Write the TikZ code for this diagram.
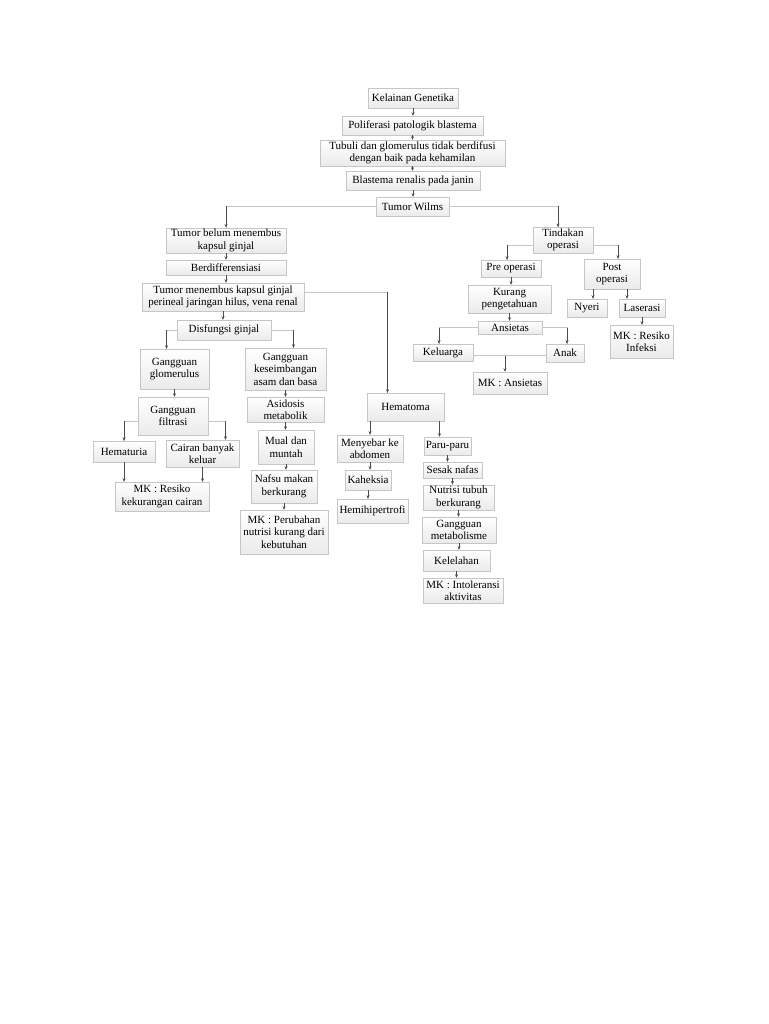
\documentclass[tikz,border=0pt]{standalone}
\usepackage{fontspec}
\setmainfont{Liberation Serif}
\usetikzlibrary{arrows.meta,calc,shadows}

\begin{document}
\begin{tikzpicture}[
  x=1pt, y=-1pt,
  every node/.style={font=\fontsize{11}{12.5}\selectfont},
  box/.style={draw=gray!45, top color=white, bottom color=gray!16, align=center, inner sep=1.5pt,
    drop shadow={shadow xshift=1pt, shadow yshift=-1pt, opacity=0.25}},
  link/.style={draw=gray!45, line width=0.6pt},
  arr/.style={-{Stealth[length=3.5pt,width=3pt]}, draw=black!70, line width=0.6pt}
]
\fill[white] (0,0) rectangle (768,1024);
\useasboundingbox (0,0) rectangle (768,1024);

% main stem
\node[box, minimum width=90pt, minimum height=20pt] (kelainan) at (413,98) {Kelainan Genetika};
\node[box, minimum width=141pt, minimum height=19pt] (poliferasi) at (412.5,125.5) {Poliferasi patologik blastema};
\node[box, minimum width=185pt, minimum height=26pt] (tubuli) at (412.5,153) {Tubuli dan glomerulus tidak berdifusi\\dengan baik pada kehamilan};
\node[box, minimum width=134pt, minimum height=19pt] (blastema) at (413,180.5) {Blastema renalis pada janin};
\node[box, minimum width=73pt, minimum height=19pt] (wilms) at (412.5,206.5) {Tumor Wilms};

% left branch
\node[box, minimum width=120pt, minimum height=25pt] (belum) at (226,240.5) {Tumor belum menembus\\kapsul ginjal};
\node[box, minimum width=120pt, minimum height=15pt] (berdiff) at (226,267.5) {Berdifferensiasi};
\node[box, minimum width=162pt, minimum height=28pt] (menembus) at (223,297) {Tumor menembus kapsul ginjal\\perineal jaringan hilus, vena renal};
\node[box, minimum width=94pt, minimum height=20pt] (disfungsi) at (224,330) {Disfungsi ginjal};
\node[box, minimum width=69pt, minimum height=40pt] (glomerulus) at (174.5,369) {Gangguan\\glomerulus};
\node[box, minimum width=70pt, minimum height=38pt] (filtrasi) at (173,416) {Gangguan\\filtrasi};
\node[box, minimum width=62pt, minimum height=21pt] (hematuria) at (124,451.5) {Hematuria};
\node[box, minimum width=73pt, minimum height=27pt] (cairan) at (202.5,453.5) {Cairan banyak\\keluar};
\node[box, minimum width=94pt, minimum height=29pt] (mkcairan) at (162,496.5) {MK : Resiko\\kekurangan cairan};
\node[box, minimum width=81pt, minimum height=42pt] (keseimbangan) at (285.5,369) {Gangguan\\keseimbangan\\asam dan basa};
\node[box, minimum width=77pt, minimum height=25pt] (asidosis) at (285.5,409.5) {Asidosis\\metabolik};
\node[box, minimum width=56pt, minimum height=34pt] (mual) at (286,447) {Mual dan\\muntah};
\node[box, minimum width=66pt, minimum height=33pt] (nafsu) at (284,486.5) {Nafsu makan\\berkurang};
\node[box, minimum width=88pt, minimum height=44pt] (mknutrisi) at (284,532) {MK : Perubahan\\nutrisi kurang dari\\kebutuhan};

% hematoma
\node[box, minimum width=77pt, minimum height=28pt] (hematoma) at (405.5,407) {Hematoma};
\node[box, minimum width=66pt, minimum height=27pt] (menyebar) at (370,448.5) {Menyebar ke\\abdomen};
\node[box, minimum width=46pt, minimum height=20pt] (kaheksia) at (368,480) {Kaheksia};
\node[box, minimum width=71pt, minimum height=24pt] (hemihipertrofi) at (372.5,511) {Hemihipertrofi};
\node[box, minimum width=47pt, minimum height=18pt] (paru) at (447.5,446) {Paru-paru};
\node[box, minimum width=59pt, minimum height=16pt] (sesak) at (452.5,470) {Sesak nafas};
\node[box, minimum width=71pt, minimum height=25pt] (nutrisi) at (458.5,497.5) {Nutrisi tubuh\\berkurang};
\node[box, minimum width=74pt, minimum height=26pt] (metabolisme) at (459,530) {Gangguan\\metabolisme};
\node[box, minimum width=67pt, minimum height=21pt] (kelelahan) at (456.5,560.5) {Kelelahan};
\node[box, minimum width=80pt, minimum height=25pt] (mkintoleransi) at (463,590.5) {MK : Intoleransi\\aktivitas};

% right branch
\node[box, minimum width=60pt, minimum height=24pt] (tindakan) at (563,240) {Tindakan\\operasi};
\node[box, minimum width=60pt, minimum height=17pt] (preop) at (511,268.5) {Pre operasi};
\node[box, minimum width=83pt, minimum height=28pt] (kurang) at (509.5,299) {Kurang\\pengetahuan};
\node[box, minimum width=64pt, minimum height=13pt] (ansietas) at (510,327.5) {Ansietas};
\node[box, minimum width=60pt, minimum height=17pt] (keluarga) at (443,352.5) {Keluarga};
\node[box, minimum width=38pt, minimum height=18pt] (anak) at (565,353) {Anak};
\node[box, minimum width=74pt, minimum height=22pt] (mkansietas) at (510,383) {MK : Ansietas};
\node[box, minimum width=56pt, minimum height=30pt] (postop) at (612,274) {Post\\operasi};
\node[box, minimum width=40pt, minimum height=18pt] (nyeri) at (587,308) {Nyeri};
\node[box, minimum width=46pt, minimum height=18pt] (laserasi) at (642,308) {Laserasi};
\node[box, minimum width=63pt, minimum height=33pt] (mkinfeksi) at (641.5,341.5) {MK : Resiko\\Infeksi};

% straight arrows
\foreach \a/\b in {kelainan/poliferasi, poliferasi/tubuli, tubuli/blastema, blastema/wilms,
    belum/berdiff, berdiff/menembus, menembus/disfungsi, glomerulus/filtrasi,
    hematuria/mkcairan, cairan/mkcairan, keseimbangan/asidosis, asidosis/mual, mual/nafsu,
    nafsu/mknutrisi, menyebar/kaheksia, kaheksia/hemihipertrofi, paru/sesak, sesak/nutrisi,
    nutrisi/metabolisme, metabolisme/kelelahan, kelelahan/mkintoleransi, preop/kurang,
    kurang/ansietas, laserasi/mkinfeksi}
  \draw[arr] (\a.south) -- (\a.south |- \b.north);

% elbow connectors
\draw[link] (wilms.west) -| (belum.north);
\draw[arr] (wilms.west -| belum.north) -- (belum.north);
\draw[link] (wilms.east) -| ([xshift=-5pt]tindakan.north);
\draw[arr] (wilms.east -| tindakan.north) ++(-5,0) -- ([xshift=-5pt]tindakan.north);
\draw[link] ([yshift=5pt]menembus.east) -| ([xshift=-18pt]hematoma.north);
\draw[arr] ([yshift=5pt]menembus.east -| hematoma.north) ++(-18,0) -- ([xshift=-18pt]hematoma.north);
\draw[link] (disfungsi.west) -| ([xshift=-8pt]glomerulus.north);
\draw[arr] (disfungsi.west -| glomerulus.north) ++(-8,0) -- ([xshift=-8pt]glomerulus.north);
\draw[link] (disfungsi.east) -| ([xshift=8pt]keseimbangan.north);
\draw[arr] (disfungsi.east -| keseimbangan.north) ++(8,0) -- ([xshift=8pt]keseimbangan.north);
\draw[link] ([yshift=-5pt]filtrasi.west) -| (hematuria.north);
\draw[arr] ([yshift=-5pt]filtrasi.west -| hematuria.north) -- (hematuria.north);
\draw[link] ([yshift=-5pt]filtrasi.east) -| ([xshift=23pt]cairan.north);
\draw[arr] ([yshift=-5pt]filtrasi.east -| cairan.north) ++(23,0) -- ([xshift=23pt]cairan.north);
\draw[arr] (hematoma.south -| menyebar.north) -- (menyebar.north);
\draw[arr] (hematoma.south -| paru.north) ++(-8,0) -- ([xshift=-8pt]paru.north);
\draw[link] ([yshift=-5pt]tindakan.west) -| ([xshift=-4pt]preop.north);
\draw[arr] ([yshift=-5pt]tindakan.west -| preop.north) ++(-4,0) -- ([xshift=-4pt]preop.north);
\draw[link] ([yshift=-5pt]tindakan.east) -| ([xshift=6pt]postop.north);
\draw[arr] ([yshift=-5pt]tindakan.east -| postop.north) ++(6,0) -- ([xshift=6pt]postop.north);
\draw[link] (ansietas.west) -| ([xshift=-4pt]keluarga.north);
\draw[arr] (ansietas.west -| keluarga.north) ++(-4,0) -- ([xshift=-4pt]keluarga.north);
\draw[link] (ansietas.east) -| ([xshift=2pt]anak.north);
\draw[arr] (ansietas.east -| anak.north) ++(2,0) -- ([xshift=2pt]anak.north);
\draw[link] ([yshift=-3pt]keluarga.east) -- ([yshift=-3pt]keluarga.east -| anak.west);
\draw[arr] ([yshift=-3pt]keluarga.east -| mkansietas.north) ++(-5,0) -- ([xshift=-5pt]mkansietas.north);
\draw[arr] (postop.south -| nyeri.north) ++(6,0) -- ([xshift=6pt]nyeri.north);
\draw[arr] (postop.south -| laserasi.north) ++(-15,0) -- ([xshift=-15pt]laserasi.north);
\end{tikzpicture}
\end{document}
